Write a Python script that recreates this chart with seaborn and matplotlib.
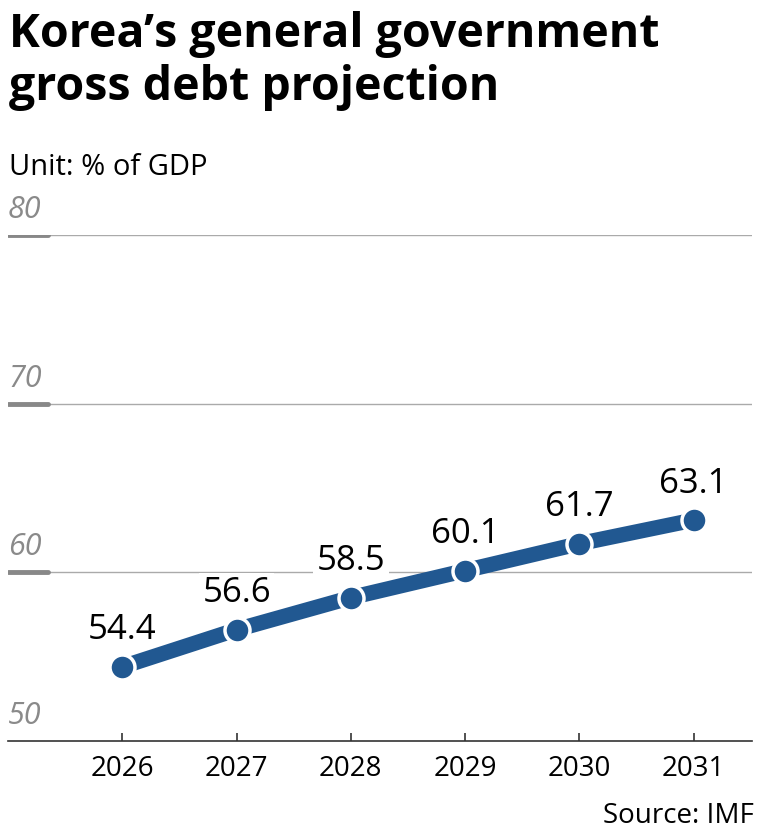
import pandas as pd
import numpy as np
from matplotlib import pyplot as plt
import seaborn as sns

# Data
years = [2026, 2027, 2028, 2029, 2030, 2031]
debt = [54.4, 56.6, 58.5, 60.1, 61.7, 63.1]
y_ticks = [50, 60, 70, 80]

BLUE = '#215891'
FONT = 'Open Sans'

sns.set_theme(style='white')
plt.rcParams['font.family'] = [FONT, 'DejaVu Sans']

df = pd.DataFrame({'year': years, 'debt': debt})

fig = plt.figure(figsize=(7.68, 8.38), dpi=100)
ax = fig.add_axes([0.0104, 0.1158, 0.9688, 0.6038])

# gridlines with thick stub on the left
for t in y_ticks[1:]:
    ax.axhline(t, color='#aaaaaa', lw=1.0, zorder=1)
    ax.axhline(t, xmin=0, xmax=0.054, color='#888888', lw=3.5, zorder=2)
for t in y_ticks:
    ax.text(0.0, t + 0.6, str(t), transform=ax.get_yaxis_transform(),
            ha='left', va='bottom', fontsize=22, style='italic',
            color='#8a8a8a')

# line + markers
sns.lineplot(data=df, x='year', y='debt', ax=ax, color=BLUE, lw=11,
             marker='o', markersize=18, markerfacecolor=BLUE,
             markeredgecolor='white', markeredgewidth=2.5, zorder=4)

for x, y in zip(years, debt):
    ax.annotate(f'{y}', (x, y), xytext=(0, 14), textcoords='offset points',
                ha='center', va='bottom', fontsize=25, color='black',
                bbox=dict(boxstyle='square,pad=0.1', fc='white', ec='none'),
                zorder=3)

ax.set_xlim(2025.0, 2031.51)
ax.set_ylim(50, 80)
ax.set_xticks(years)
ax.set_xticklabels([str(y) for y in years], fontsize=20, color='black')
ax.set_yticks([])
ax.tick_params(axis='x', direction='in', length=6, width=1.2,
               color='#333333', pad=10, bottom=True)
for s in ['top', 'right', 'left']:
    ax.spines[s].set_visible(False)
ax.spines['bottom'].set_color('#333333')
ax.spines['bottom'].set_linewidth(1.2)
ax.set_xlabel('')
ax.set_ylabel('')
ax.grid(False)

# titles
fig.text(0.012, 0.944, 'Korea’s general government', fontsize=33.5,
         fontweight='bold', color='black', va='baseline', ha='left')
fig.text(0.012, 0.881, 'gross debt projection', fontsize=33.5,
         fontweight='bold', color='black', va='baseline', ha='left')
fig.text(0.012, 0.791, 'Unit: % of GDP', fontsize=21, color='black',
         va='baseline', ha='left')
fig.text(0.982, 0.018, 'Source: IMF', fontsize=20, color='black',
         va='baseline', ha='right')

fig.savefig('out.png', dpi=100)
